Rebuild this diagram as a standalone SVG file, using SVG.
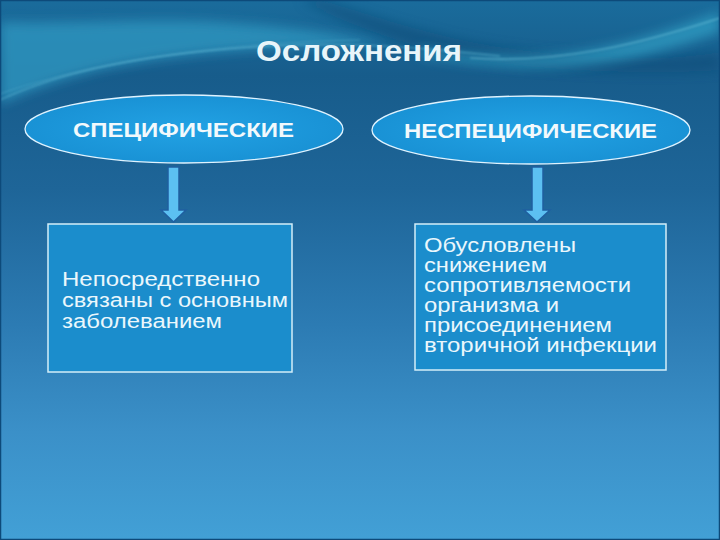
<svg xmlns="http://www.w3.org/2000/svg" width="720" height="540" viewBox="0 0 720 540">
<defs>
<linearGradient id="bg" x1="0" y1="0" x2="0" y2="1">
<stop offset="0" stop-color="#1a6c9c"/>
<stop offset="0.14" stop-color="#175c8b"/>
<stop offset="0.35" stop-color="#1e6598"/>
<stop offset="0.6" stop-color="#2c7bb3"/>
<stop offset="0.8" stop-color="#3b90c8"/>
<stop offset="1" stop-color="#42a0d6"/>
</linearGradient>
<radialGradient id="ell" cx="0.5" cy="0.5" r="0.5">
<stop offset="0" stop-color="#22a2e4"/>
<stop offset="1" stop-color="#1992d5"/>
</radialGradient>
<filter id="blur" x="-10%" y="-50%" width="120%" height="200%">
<feGaussianBlur stdDeviation="6"/>
</filter>
<filter id="blur2" x="-10%" y="-50%" width="120%" height="200%">
<feGaussianBlur stdDeviation="1.2"/>
</filter>
<style>
.ell{fill:url(#ell);stroke:#dff3ff;stroke-width:1.3}
.box{fill:#1b8dcc;stroke:#d4eef9;stroke-width:1.5}
.arrow{fill:#5cc0f2;stroke:#1f5fa0;stroke-width:1.5;stroke-linejoin:miter}
.head{font-family:"Liberation Sans",Arial,sans-serif;font-weight:bold;font-size:21px;fill:#f2f9fc}
.title{font-family:"Liberation Sans",Arial,sans-serif;font-weight:bold;font-size:30px;fill:#e8f5fa}
.body{font-family:"Liberation Sans",Arial,sans-serif;font-size:20px;fill:#eaf7fc}
</style>
</defs>
<rect x="0" y="0" width="720" height="540" fill="url(#bg)"/>
<g id="background-waves">
<path d="M0,22 C80,24 150,18 220,22 C290,26 340,34 390,44 C300,46 210,50 140,62 C80,72 35,88 0,104 Z" fill="#2f96c0" opacity="0.8" filter="url(#blur)"/>
<path d="M320,0 C370,15 420,32 470,42 C520,52 570,56 620,58 C660,60 700,56 720,52 L720,70 C650,74 560,72 480,60 C420,50 360,30 300,0 Z" fill="#114a75" opacity="0.55" filter="url(#blur)"/>
<path d="M420,48 C480,58 540,60 600,48 C650,38 690,22 720,12 L720,32 C680,46 630,62 570,66 C510,70 460,62 420,56 Z" fill="#35a9cc" opacity="0.65" filter="url(#blur)"/>
<path d="M0,100 C60,72 150,50 300,45 C380,43 440,50 500,56" fill="none" stroke="#7fd6ec" stroke-width="1" opacity="0.55" filter="url(#blur2)"/>
<path d="M0,94 C80,66 200,44 360,40" fill="none" stroke="#7fd6ec" stroke-width="0.8" opacity="0.4" filter="url(#blur2)"/>
<path d="M470,58 C560,64 640,44 720,18" fill="none" stroke="#8fe0f0" stroke-width="1.2" opacity="0.55" filter="url(#blur2)"/>
</g>
<rect x="0.5" y="0.5" width="719" height="539" fill="none" stroke="#0d4a7a" stroke-width="1.5"/>
<g id="title">
<text class="title" x="256" y="61" textLength="206" lengthAdjust="spacingAndGlyphs">Осложнения</text>
</g>
<g id="node-specific">
<ellipse class="ell" cx="184" cy="129" rx="159" ry="34"/>
<text class="head" x="73" y="137" textLength="221" lengthAdjust="spacingAndGlyphs">СПЕЦИФИЧЕСКИЕ</text>
</g>
<g id="node-nonspecific">
<ellipse class="ell" cx="531" cy="130" rx="159" ry="34"/>
<text class="head" x="404" y="138" textLength="253" lengthAdjust="spacingAndGlyphs">НЕСПЕЦИФИЧЕСКИЕ</text>
</g>
<g id="connectors">
<polygon class="arrow" points="168,167 179,167 179,210 186,210 173.5,222 161,210 168,210"/>
<polygon class="arrow" points="532,167 543,167 543,210 550,210 537,222 524,210 532,210"/>
</g>
<g id="box-specific">
<rect class="box" x="48" y="224" width="244" height="148"/>
<text class="body" x="62" y="286" textLength="198" lengthAdjust="spacingAndGlyphs">Непосредственно</text>
<text class="body" x="62" y="307" textLength="226" lengthAdjust="spacingAndGlyphs">связаны с основным</text>
<text class="body" x="62" y="328" textLength="160" lengthAdjust="spacingAndGlyphs">заболеванием</text>
</g>
<g id="box-nonspecific">
<rect class="box" x="415" y="224" width="251" height="146"/>
<text class="body" x="424" y="252" textLength="152" lengthAdjust="spacingAndGlyphs">Обусловлены</text>
<text class="body" x="424" y="272" textLength="123" lengthAdjust="spacingAndGlyphs">снижением</text>
<text class="body" x="424" y="292" textLength="207" lengthAdjust="spacingAndGlyphs">сопротивляемости</text>
<text class="body" x="424" y="312" textLength="135" lengthAdjust="spacingAndGlyphs">организма и</text>
<text class="body" x="424" y="332" textLength="188" lengthAdjust="spacingAndGlyphs">присоединением</text>
<text class="body" x="424" y="352" textLength="233" lengthAdjust="spacingAndGlyphs">вторичной инфекции</text>
</g>
</svg>
